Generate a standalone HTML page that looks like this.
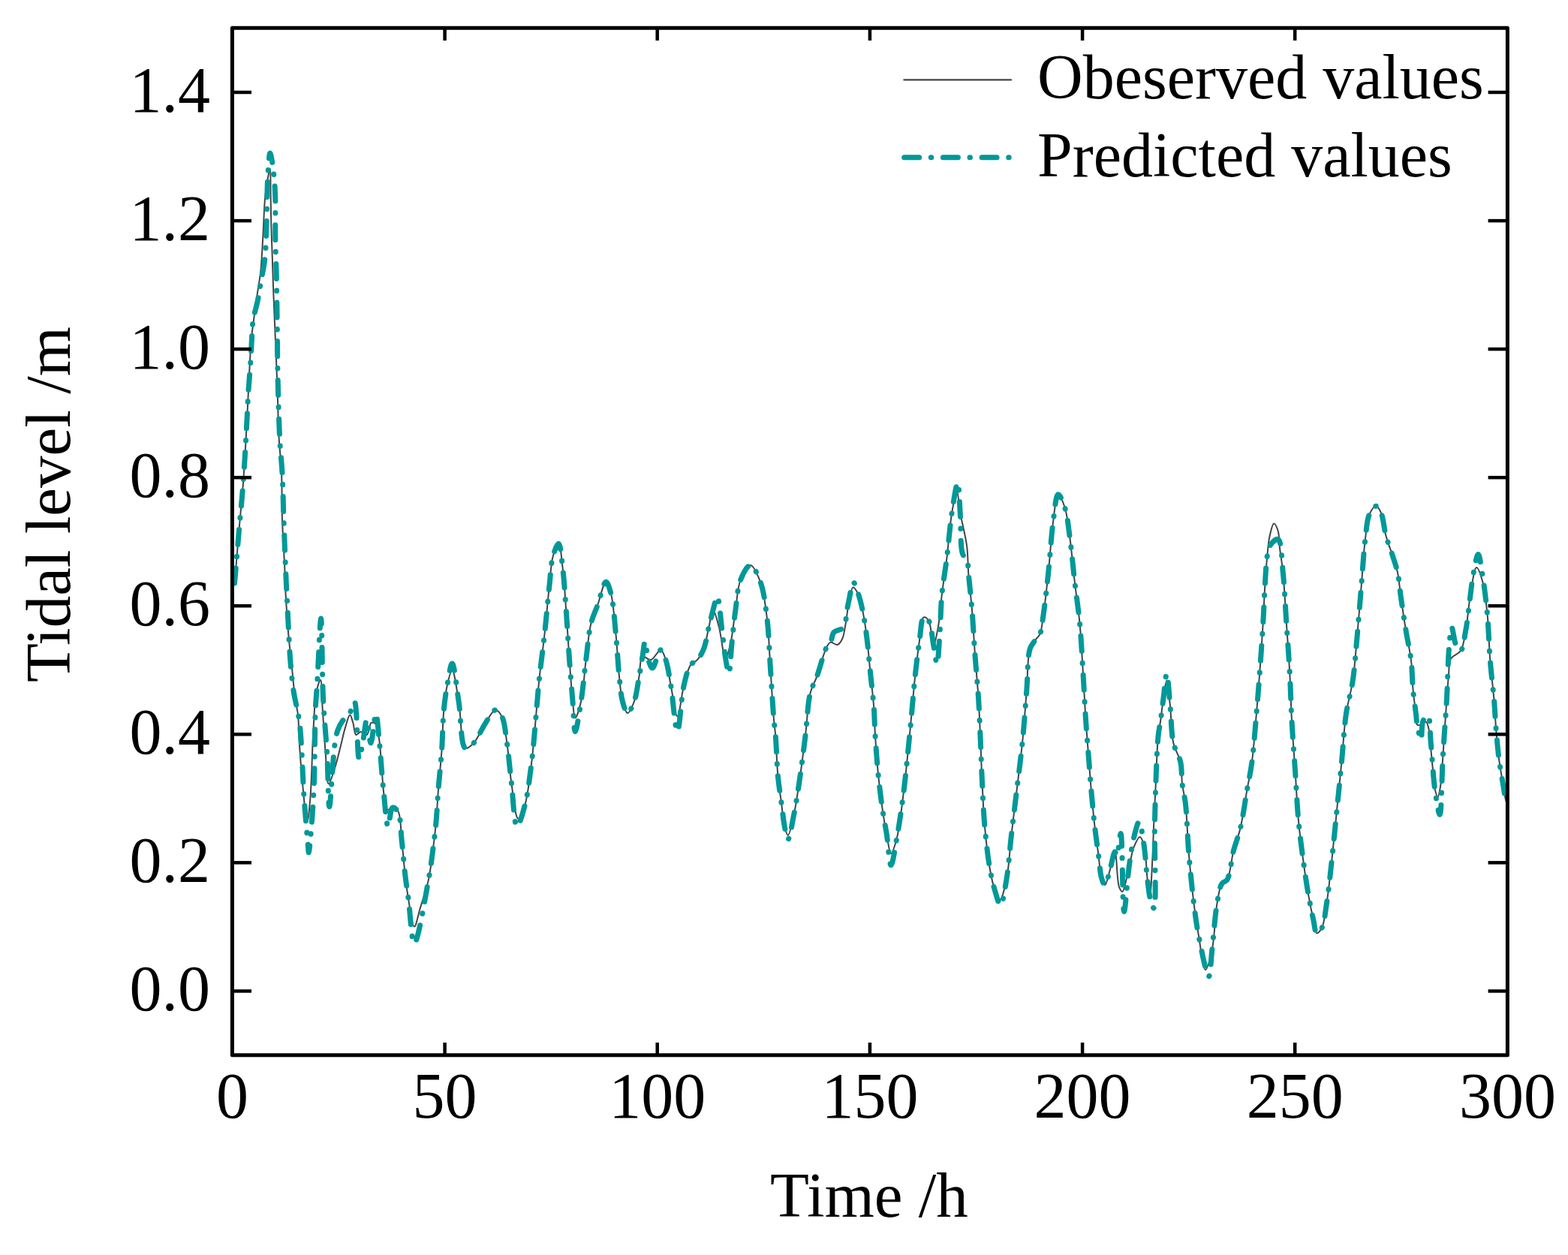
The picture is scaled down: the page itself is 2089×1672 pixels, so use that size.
<!DOCTYPE html>
<html><head><meta charset="utf-8"><title>Tidal level</title>
<style>
html,body{margin:0;padding:0;background:#fff;}
svg{display:block;}
text{font-family:"Liberation Serif","Times New Roman",serif;fill:#000;}
</style></head><body>
<svg width="2089" height="1672" viewBox="0 0 2089 1672">
<rect width="2089" height="1672" fill="#fff"/>
<g fill="none" stroke-linejoin="round">
<path d="M312.5,777.0C312.5,777.0 314.1,758.9 315.0,748.0C316.2,734.0 317.6,716.2 319.0,700.0C320.4,683.5 322.2,666.7 323.5,650.0C324.8,633.3 325.8,616.7 326.8,600.0C327.8,583.3 328.6,566.7 329.5,550.0C330.4,533.3 331.1,516.7 332.0,500.0C332.9,483.3 333.7,463.6 335.0,450.0C335.9,440.7 336.9,435.0 338.0,426.4C339.4,416.1 341.1,403.3 342.7,392.2C344.2,381.6 346.1,372.5 347.3,361.0C348.8,347.0 349.4,330.5 350.4,314.4C351.5,297.0 351.6,276.1 353.5,260.0C355.0,247.0 358.7,224.9 359.8,225.0C360.8,225.1 360.3,241.9 360.5,252.2C360.8,265.7 360.9,283.3 361.3,298.9C361.7,314.4 362.4,330.0 362.9,345.5C363.4,361.1 363.8,375.8 364.4,392.2C365.1,410.4 366.0,429.8 366.8,450.0C367.7,472.2 368.8,497.1 369.6,520.0C370.4,542.0 370.6,565.3 371.7,584.6C372.6,600.4 374.3,611.8 375.0,627.6C375.9,646.9 375.3,670.5 376.0,692.0C376.7,713.6 378.6,740.6 379.3,756.8C379.7,766.5 379.6,771.2 380.0,780.0C380.5,791.8 381.7,809.3 382.5,821.4C383.1,830.8 383.6,837.2 384.4,846.4C385.4,857.9 387.1,871.6 388.5,885.0C390.0,899.5 391.5,918.1 393.2,930.5C394.4,939.2 396.1,944.2 397.0,952.6C398.2,963.4 397.9,976.3 398.8,990.0C399.9,1006.7 401.4,1027.5 403.2,1045.5C404.9,1062.5 407.3,1095.0 409.2,1095.0C410.7,1095.0 412.1,1077.4 413.3,1064.5C415.3,1042.2 415.8,999.1 417.4,973.0C418.6,953.5 419.0,934.1 421.5,922.0C423.0,915.0 425.7,905.8 427.0,906.0C429.0,906.3 428.7,928.7 429.6,942.4C430.8,960.1 432.2,985.2 433.7,1003.5C434.9,1018.5 435.0,1043.8 437.7,1044.2C439.7,1044.5 443.4,1031.4 445.9,1023.8C448.9,1014.7 451.5,1002.9 454.0,993.3C456.2,984.7 457.8,976.2 460.1,968.9C462.0,962.9 464.3,952.6 466.2,952.6C467.7,952.6 469.0,959.0 470.3,962.8C471.8,967.5 472.0,978.1 474.4,979.0C476.0,979.6 478.3,975.1 480.5,975.0C483.0,974.8 486.4,979.9 488.6,979.0C491.6,977.8 491.9,964.2 494.7,962.8C496.4,962.0 499.2,963.1 500.8,964.8C503.5,967.8 503.8,976.2 504.9,983.1C506.3,992.0 506.9,1002.8 507.9,1013.7C509.0,1026.3 509.6,1042.6 511.0,1054.4C512.1,1063.6 511.7,1076.5 515.1,1078.8C517.1,1080.1 520.7,1076.5 523.2,1076.8C525.7,1077.1 528.4,1078.0 530.3,1080.8C534.5,1087.1 533.8,1107.8 535.4,1121.7C537.0,1136.2 538.2,1152.3 539.8,1166.0C541.2,1177.9 542.3,1188.0 544.3,1199.2C546.4,1210.9 549.2,1234.5 552.0,1234.6C554.4,1234.7 556.9,1219.2 559.7,1210.2C563.1,1199.0 567.9,1185.9 570.8,1172.6C574.0,1158.0 575.7,1140.1 577.5,1126.1C579.0,1114.7 580.0,1106.3 581.0,1095.0C582.2,1081.4 582.9,1065.4 584.1,1050.0C585.4,1033.8 587.3,1017.0 588.5,1000.0C589.7,982.4 589.8,961.9 591.3,946.0C592.5,933.3 593.7,921.6 596.0,912.0C597.7,904.6 600.3,892.8 602.4,892.9C605.4,893.1 608.5,919.6 611.2,935.0C614.5,953.6 613.6,993.9 620.0,996.9C622.9,998.3 627.4,993.6 631.0,990.0C636.5,984.4 641.4,971.5 646.6,963.7C651.0,957.1 655.8,946.3 659.9,946.0C663.0,945.8 666.4,950.4 668.7,954.8C672.7,962.3 673.4,977.0 675.4,990.0C677.8,1006.1 678.9,1027.0 681.5,1044.3C683.9,1060.4 686.4,1090.1 690.3,1090.7C692.8,1091.1 696.7,1080.8 699.2,1073.0C703.4,1059.9 705.2,1039.6 708.0,1017.7C712.0,986.1 715.4,932.9 718.8,901.3C721.1,879.5 723.3,865.3 725.4,846.0C727.7,824.9 729.9,798.6 732.0,779.6C733.6,765.3 733.8,752.0 736.5,742.0C738.4,734.8 742.1,724.0 744.2,724.3C746.9,724.6 748.2,745.0 749.7,757.5C751.7,773.6 752.8,793.5 754.2,812.8C755.8,833.9 757.1,858.1 758.6,879.2C760.0,898.5 761.4,920.2 763.0,934.5C764.0,943.5 764.5,956.4 766.3,956.6C768.2,956.8 772.0,943.7 774.1,934.5C777.4,920.4 778.4,897.0 780.7,879.2C782.9,862.4 784.1,843.8 787.4,830.5C789.8,820.8 793.1,814.7 796.2,806.1C799.7,796.4 804.0,775.3 807.3,775.2C809.7,775.1 812.0,783.7 813.9,790.6C817.3,803.2 818.7,827.5 820.6,846.0C822.4,864.4 823.3,885.2 825.0,901.3C826.3,913.8 827.0,925.6 829.4,934.5C831.1,940.8 833.5,949.8 836.0,950.0C838.6,950.2 842.5,940.9 844.9,934.5C848.2,925.7 849.6,911.8 851.5,901.3C853.2,892.0 852.1,876.9 856.0,874.7C858.6,873.3 863.4,879.9 867.0,879.2C871.5,878.3 876.9,865.4 880.3,865.9C883.3,866.4 885.1,873.6 887.0,879.2C889.9,887.6 891.2,900.6 893.6,912.3C896.3,925.5 899.5,954.4 902.4,954.4C905.4,954.4 908.0,924.6 911.3,912.3C914.0,902.4 916.1,891.4 920.1,885.8C922.6,882.3 926.3,882.2 929.0,879.2C932.4,875.4 935.4,869.9 937.8,863.7C940.9,855.8 942.3,843.9 944.5,834.9C946.4,827.0 947.8,812.9 950.0,812.8C952.2,812.7 955.4,826.3 957.8,834.9C961.1,846.6 963.5,876.8 966.6,877.0C968.8,877.1 971.4,865.1 973.3,857.0C976.1,845.2 977.6,827.1 979.9,812.8C982.0,799.2 982.3,783.7 986.5,773.0C989.7,764.8 995.5,752.9 999.8,753.0C1004.3,753.1 1009.5,766.0 1013.0,775.2C1017.8,787.9 1019.7,806.3 1021.9,823.8C1024.4,844.1 1024.9,868.1 1026.4,890.2C1027.9,912.3 1029.4,940.1 1030.8,956.6C1031.6,966.4 1032.4,970.5 1033.2,980.0C1034.4,994.5 1035.0,1019.2 1036.5,1035.3C1037.7,1047.8 1039.4,1057.4 1040.9,1068.5C1042.4,1079.6 1043.3,1093.7 1045.4,1101.7C1046.7,1106.5 1048.2,1112.9 1049.8,1112.8C1052.2,1112.7 1055.3,1096.0 1057.5,1086.2C1060.2,1074.3 1061.9,1061.4 1064.2,1046.4C1067.1,1027.1 1070.4,1001.3 1073.0,980.0C1075.4,960.4 1075.9,937.7 1079.5,923.4C1081.8,914.1 1085.2,909.8 1088.3,901.3C1092.4,890.0 1097.6,868.7 1101.6,861.5C1103.3,858.4 1104.5,856.2 1106.6,855.6C1109.0,855.0 1112.9,859.7 1115.5,859.0C1118.1,858.3 1120.4,854.7 1122.1,851.2C1124.5,846.3 1125.2,838.6 1126.6,831.3C1128.2,822.6 1129.1,811.2 1131.0,802.5C1132.6,795.2 1133.9,783.0 1136.5,782.6C1138.6,782.2 1142.1,788.9 1144.3,793.7C1147.5,800.8 1149.1,812.6 1150.9,822.4C1152.8,832.5 1153.9,842.1 1155.3,853.4C1156.9,866.8 1158.2,882.9 1159.7,897.7C1161.2,912.4 1163.1,927.7 1164.2,941.9C1165.2,955.1 1165.1,966.1 1166.0,980.0C1167.1,996.7 1168.6,1017.9 1170.4,1035.3C1172.0,1050.9 1173.9,1065.9 1175.9,1079.6C1177.6,1091.5 1179.5,1102.6 1181.5,1112.8C1183.2,1121.6 1184.7,1136.9 1187.0,1137.1C1189.1,1137.3 1192.4,1125.8 1194.7,1117.2C1198.5,1102.8 1200.9,1078.7 1203.6,1057.5C1206.7,1033.4 1209.2,1006.2 1211.8,980.0C1214.5,953.0 1217.0,920.9 1219.5,897.7C1221.4,880.6 1223.0,866.8 1225.0,853.4C1226.7,842.1 1227.1,823.9 1230.6,822.4C1232.4,821.7 1235.4,824.1 1237.2,826.9C1241.0,832.6 1241.5,860.0 1243.8,860.0C1245.9,860.0 1248.7,841.7 1250.5,831.3C1252.6,819.2 1253.2,805.4 1254.9,791.5C1256.8,776.1 1259.4,759.9 1261.5,742.8C1263.8,723.9 1265.4,699.3 1268.2,683.0C1270.1,671.6 1273.0,654.2 1274.8,654.3C1276.6,654.4 1277.3,672.4 1279.2,683.0C1281.5,696.2 1286.3,713.1 1288.1,727.3C1289.8,740.3 1289.3,751.9 1290.3,764.9C1291.4,779.1 1293.3,792.9 1294.7,809.2C1296.4,829.1 1297.6,854.4 1299.2,875.5C1300.6,894.8 1302.5,913.0 1303.6,930.9C1304.7,947.8 1305.2,962.4 1306.0,980.0C1306.9,1000.5 1307.6,1025.3 1308.7,1046.4C1309.7,1065.7 1310.3,1083.3 1312.0,1101.7C1313.7,1120.2 1316.0,1141.6 1318.7,1157.0C1320.7,1168.2 1322.5,1178.2 1325.3,1185.8C1327.3,1191.2 1329.8,1199.2 1332.0,1199.0C1335.0,1198.8 1338.4,1183.3 1340.8,1172.5C1344.2,1156.7 1345.2,1132.3 1347.4,1112.8C1349.6,1094.0 1351.7,1077.2 1354.0,1057.5C1356.7,1035.0 1360.2,1008.5 1362.5,985.0C1364.7,962.7 1366.1,940.6 1367.8,919.8C1369.3,900.6 1368.6,875.7 1372.2,864.5C1373.9,859.1 1376.5,856.8 1378.8,853.4C1380.9,850.2 1383.8,848.5 1385.5,844.6C1388.1,838.7 1388.4,830.0 1389.9,820.2C1392.1,805.5 1394.4,784.5 1396.5,764.9C1398.9,742.8 1400.5,713.6 1403.2,694.1C1405.1,680.2 1406.6,659.2 1409.8,658.7C1412.2,658.4 1416.3,669.1 1418.7,676.4C1422.1,686.8 1423.3,701.6 1425.3,716.2C1427.8,734.1 1429.6,756.5 1431.9,776.0C1434.1,794.8 1436.8,812.0 1438.6,831.3C1440.6,852.4 1441.6,875.9 1443.0,897.7C1444.3,918.8 1445.3,941.0 1446.6,960.0C1447.7,976.0 1448.8,988.7 1450.0,1004.3C1451.4,1021.7 1452.8,1042.2 1454.4,1059.6C1455.8,1075.2 1457.2,1090.1 1458.8,1103.8C1460.2,1115.7 1461.7,1125.9 1463.2,1137.0C1464.7,1148.1 1465.4,1162.8 1467.7,1170.2C1468.9,1174.2 1470.6,1179.2 1472.1,1179.1C1474.3,1178.9 1476.6,1166.2 1478.7,1159.2C1481.0,1151.5 1483.5,1134.7 1485.4,1134.8C1487.9,1135.0 1487.8,1173.0 1490.9,1181.3C1492.2,1184.7 1493.8,1188.1 1495.3,1187.9C1498.3,1187.4 1501.5,1165.2 1504.2,1154.7C1506.6,1145.4 1507.9,1135.4 1510.8,1128.2C1513.0,1122.8 1516.3,1114.8 1518.6,1114.9C1520.7,1115.0 1522.6,1120.9 1524.1,1126.0C1526.9,1135.7 1527.1,1157.3 1528.5,1170.2C1529.6,1180.2 1530.8,1196.8 1531.8,1196.8C1533.1,1196.8 1534.3,1164.9 1535.2,1148.1C1536.2,1130.3 1536.6,1110.2 1537.4,1092.8C1538.1,1077.2 1538.8,1064.8 1539.6,1048.5C1540.6,1028.6 1541.3,998.3 1542.9,982.1C1543.8,972.7 1545.1,967.9 1546.2,960.0C1547.5,950.8 1548.5,939.4 1550.0,930.0C1551.3,921.7 1553.0,906.6 1554.4,906.6C1556.0,906.6 1557.5,927.6 1558.9,939.8C1560.6,954.8 1560.2,976.3 1563.3,990.0C1565.6,1000.0 1570.8,1006.4 1572.8,1015.3C1574.8,1024.5 1573.9,1034.7 1575.0,1044.1C1576.1,1053.1 1578.1,1059.7 1579.4,1070.6C1581.4,1087.7 1582.0,1114.9 1583.8,1137.0C1585.7,1159.1 1588.0,1183.5 1590.5,1203.4C1592.5,1219.7 1594.5,1233.0 1597.1,1247.7C1599.7,1262.5 1602.6,1291.8 1606.0,1292.0C1608.7,1292.2 1612.4,1276.3 1614.8,1265.4C1618.3,1249.2 1618.6,1219.7 1621.5,1203.4C1623.4,1192.6 1624.7,1181.8 1628.1,1176.9C1629.9,1174.2 1632.8,1175.2 1634.7,1172.4C1639.1,1166.0 1640.4,1144.7 1643.6,1132.6C1646.4,1122.2 1649.8,1114.9 1652.4,1103.8C1655.9,1089.3 1658.6,1068.6 1661.3,1052.9C1663.7,1039.4 1666.0,1029.6 1667.9,1015.3C1670.4,996.7 1672.1,971.6 1673.9,950.9C1675.6,931.7 1676.9,914.8 1678.3,895.5C1679.9,874.4 1681.6,849.1 1682.8,829.2C1683.8,813.0 1684.1,799.7 1685.0,785.0C1685.9,770.2 1687.0,753.5 1688.3,740.6C1689.3,730.6 1689.8,721.8 1691.6,714.1C1693.0,707.8 1695.1,697.7 1697.2,697.5C1698.9,697.3 1701.4,703.4 1702.7,707.5C1704.5,713.3 1704.0,721.5 1704.9,729.6C1706.1,739.6 1708.0,749.8 1709.3,762.8C1711.1,781.1 1712.3,807.1 1713.8,829.2C1715.3,851.3 1717.0,873.5 1718.2,895.5C1719.4,917.1 1719.8,938.4 1721.0,960.0C1722.2,982.0 1724.0,1004.3 1725.5,1026.4C1727.0,1048.5 1727.9,1071.7 1729.9,1092.8C1731.7,1112.1 1734.1,1130.7 1736.5,1148.1C1738.6,1163.7 1740.8,1178.6 1743.2,1192.3C1745.3,1204.2 1747.7,1216.2 1749.8,1225.5C1751.3,1232.3 1751.8,1242.5 1754.2,1243.2C1755.9,1243.7 1759.0,1240.1 1760.9,1236.6C1764.4,1230.0 1765.5,1215.9 1767.5,1203.4C1770.0,1187.3 1772.0,1167.4 1774.1,1148.1C1776.4,1127.0 1778.6,1103.8 1780.8,1081.7C1783.0,1059.6 1785.3,1037.3 1787.4,1015.3C1789.5,993.7 1790.6,970.3 1793.4,950.9C1795.8,934.7 1800.0,922.2 1802.3,906.6C1804.9,889.2 1806.0,870.6 1807.8,851.3C1809.7,830.2 1811.5,807.0 1813.3,784.9C1815.2,762.8 1816.6,736.8 1818.9,718.5C1820.5,705.5 1820.9,693.1 1824.4,685.3C1826.7,680.3 1830.6,674.3 1833.3,674.3C1835.7,674.3 1838.0,679.0 1839.9,683.1C1843.1,690.1 1843.8,704.2 1846.5,714.1C1849.0,723.4 1852.7,732.1 1855.4,740.6C1857.8,748.3 1860.2,754.6 1862.0,762.8C1864.1,772.7 1864.7,784.2 1866.4,796.0C1868.3,809.7 1870.8,825.9 1873.1,840.2C1875.3,853.8 1878.4,866.7 1880.0,880.0C1881.6,893.2 1881.4,907.0 1882.6,919.5C1883.7,931.0 1885.6,943.9 1886.6,952.4C1887.2,957.8 1886.0,963.7 1888.0,965.5C1889.4,966.8 1892.5,966.1 1894.5,965.5C1896.4,964.9 1898.3,961.2 1899.7,961.6C1901.6,962.1 1902.7,967.7 1903.7,972.1C1905.3,978.8 1905.4,989.6 1906.3,998.4C1907.2,1007.2 1908.0,1015.9 1908.9,1024.7C1909.8,1033.5 1910.0,1044.3 1911.6,1051.0C1912.6,1055.4 1914.3,1061.7 1915.5,1061.6C1917.0,1061.5 1918.5,1051.2 1919.5,1044.5C1920.9,1035.4 1921.3,1023.1 1922.1,1011.6C1923.0,999.0 1923.8,985.3 1924.7,972.1C1925.6,958.9 1926.5,945.2 1927.4,932.6C1928.2,921.1 1929.0,909.5 1930.0,899.7C1930.8,891.6 1929.7,883.4 1932.8,877.8C1935.5,872.8 1942.9,872.0 1946.1,866.8C1950.2,860.3 1950.7,850.6 1952.7,840.2C1955.4,826.0 1956.7,804.4 1959.4,789.3C1961.6,777.0 1964.0,756.4 1967.1,756.1C1969.4,755.9 1972.8,766.4 1974.9,773.8C1978.2,785.1 1979.8,802.0 1981.5,818.0C1983.5,836.9 1983.7,860.2 1985.3,880.0C1986.8,898.3 1989.1,916.3 1990.5,932.6C1991.7,946.7 1992.1,958.9 1993.2,972.1C1994.3,985.3 1995.5,999.1 1997.1,1011.6C1998.6,1023.1 2000.7,1034.6 2002.4,1044.5C2003.8,1052.7 2004.9,1062.8 2006.3,1066.8C2006.9,1068.4 2008.0,1070.0 2008.0,1070.0" stroke="#444" stroke-width="2"/>
<path d="M312.5,777.0C312.5,777.0 314.1,758.9 315.0,748.0C316.2,734.0 317.6,716.2 319.0,700.0C320.4,683.5 322.2,666.7 323.5,650.0C324.8,633.3 325.8,616.7 326.8,600.0C327.8,583.3 328.7,564.6 329.5,550.0C330.1,538.7 330.3,530.7 331.0,520.0C331.8,507.6 333.2,492.7 334.0,480.0C334.7,468.4 335.1,456.3 335.7,446.6C336.2,439.0 336.1,433.5 337.2,426.4C338.5,418.1 341.7,408.6 343.4,400.0C345.0,392.0 345.9,384.9 347.3,376.6C349.0,367.0 351.5,357.0 352.8,345.5C354.4,331.6 354.5,315.6 355.1,298.9C355.8,279.7 355.7,254.1 356.7,236.7C357.5,224.0 358.5,204.1 359.8,204.0C360.6,203.9 361.7,210.7 362.5,215.0C363.6,221.0 364.5,229.0 365.2,236.7C366.0,245.4 366.5,254.0 366.8,264.6C367.2,278.8 366.6,297.4 366.8,314.4C367.0,332.1 367.9,350.9 368.3,368.8C368.7,386.2 368.8,400.3 369.1,420.2C369.5,448.0 369.7,489.7 370.5,520.0C371.1,545.4 371.9,569.9 373.0,590.0C373.8,605.2 375.2,615.2 376.0,630.0C377.0,648.4 377.3,671.1 378.0,692.0C378.8,713.4 379.7,738.8 380.5,756.8C381.0,769.7 381.4,778.4 382.0,790.0C382.6,802.7 383.3,815.9 384.0,830.0C384.8,845.7 385.5,864.3 386.8,880.0C387.9,894.1 389.0,906.5 391.0,920.0C393.0,934.1 396.9,945.4 399.0,962.8C402.3,989.4 403.1,1034.9 405.2,1064.5C406.9,1087.5 409.2,1113.8 410.3,1125.6C410.7,1130.4 410.9,1135.8 411.3,1135.8C412.2,1135.8 414.3,1109.4 415.4,1095.0C416.7,1079.0 417.6,1063.9 418.4,1044.0C419.5,1015.8 419.3,965.9 420.4,942.0C421.0,929.0 421.7,924.6 422.5,912.0C423.9,890.4 426.3,824.0 427.6,824.0C429.1,824.0 429.0,899.7 430.6,932.0C431.9,958.3 434.3,979.7 435.7,1003.5C437.1,1027.2 437.2,1074.7 438.8,1074.7C440.5,1074.7 443.3,1011.0 445.9,993.0C447.2,984.0 447.9,978.7 449.9,973.0C451.5,968.4 453.4,964.8 456.0,961.0C458.7,957.1 463.3,954.2 466.0,950.0C468.8,945.6 470.6,934.7 472.3,935.0C476.1,935.6 475.7,1010.8 478.4,1011.0C480.0,1011.1 482.3,993.7 484.0,985.0C485.7,976.3 487.0,959.0 488.6,959.0C490.3,959.0 492.1,990.0 494.0,990.0C496.1,990.0 498.9,951.0 500.8,951.0C502.5,951.0 503.5,970.2 504.9,983.0C506.9,1002.0 508.7,1032.8 511.0,1054.0C512.9,1071.3 514.7,1100.9 517.1,1101.0C518.9,1101.1 519.7,1077.2 523.0,1076.0C524.9,1075.3 528.1,1077.9 530.0,1081.0C534.1,1087.8 533.8,1107.8 535.4,1121.7C537.1,1136.1 538.2,1152.3 539.8,1166.0C541.2,1177.9 542.6,1186.6 544.3,1199.2C546.5,1215.8 548.3,1256.5 552.0,1256.7C556.5,1256.9 566.4,1196.6 570.8,1172.6C574.1,1154.9 575.7,1140.1 577.5,1126.1C579.0,1114.7 580.0,1106.3 581.0,1095.0C582.2,1081.4 582.9,1065.4 584.1,1050.0C585.4,1033.8 587.3,1017.0 588.5,1000.0C589.7,982.4 589.8,961.9 591.3,946.0C592.5,933.3 594.0,922.7 596.0,912.0C597.8,902.2 600.2,883.9 602.4,884.0C605.3,884.1 608.4,917.2 611.2,935.0C614.3,954.6 613.6,993.9 620.0,996.9C622.9,998.3 627.4,993.6 631.0,990.0C636.5,984.4 641.4,971.5 646.6,963.7C651.0,957.1 655.8,946.3 659.9,946.0C663.0,945.8 666.4,950.4 668.7,954.8C672.7,962.3 673.4,977.0 675.4,990.0C677.8,1006.1 679.3,1026.0 681.5,1044.3C683.7,1063.0 684.9,1100.5 688.7,1100.9C691.5,1101.2 696.3,1084.1 699.2,1073.0C703.2,1057.9 705.2,1039.6 708.0,1017.7C712.0,986.1 715.4,932.9 718.8,901.3C721.1,879.5 723.3,865.3 725.4,846.0C727.7,824.9 729.9,798.6 732.0,779.6C733.6,765.3 733.8,752.0 736.5,742.0C738.4,734.8 742.1,724.0 744.2,724.3C746.9,724.6 748.2,745.0 749.7,757.5C751.7,773.6 752.8,793.5 754.2,812.8C755.8,833.9 757.1,858.1 758.6,879.2C760.0,898.5 761.6,917.5 763.0,934.5C764.2,949.0 764.5,974.6 766.3,974.7C768.2,974.8 771.8,949.0 774.1,934.5C776.7,917.6 778.4,897.0 780.7,879.2C782.9,862.4 784.1,843.8 787.4,830.5C789.8,820.8 793.1,814.7 796.2,806.1C799.7,796.4 804.0,775.3 807.3,775.2C809.7,775.1 812.0,783.7 813.9,790.6C817.3,803.2 818.7,827.5 820.6,846.0C822.4,864.4 823.3,885.2 825.0,901.3C826.3,913.8 827.0,925.6 829.4,934.5C831.1,940.8 833.5,949.8 836.0,950.0C838.6,950.2 842.5,940.9 844.9,934.5C848.2,925.7 849.6,911.8 851.5,901.3C853.2,892.0 854.6,882.9 856.0,874.7C857.2,867.6 858.1,854.8 859.3,854.8C860.7,854.8 861.8,873.6 864.0,880.0C865.5,884.2 867.2,890.0 869.2,890.0C872.3,889.9 877.0,866.0 880.3,865.9C882.8,865.9 885.1,873.6 887.0,879.2C889.9,887.6 891.4,899.5 893.6,912.3C896.6,929.7 899.5,974.3 902.4,974.3C905.4,974.3 907.5,928.5 911.3,912.3C913.9,901.5 916.1,891.4 920.1,885.8C922.6,882.3 926.3,882.2 929.0,879.2C932.4,875.4 935.4,869.9 937.8,863.7C940.9,855.8 942.3,843.9 944.5,834.9C946.4,827.0 948.1,819.7 950.0,812.8C951.8,806.5 953.8,794.9 955.5,795.0C958.1,795.2 960.1,825.7 962.0,840.0C963.7,852.9 964.8,866.6 966.6,877.0C967.9,884.7 969.7,897.0 971.0,896.9C972.8,896.8 973.6,870.6 975.0,857.0C976.5,842.6 977.9,827.1 979.9,812.8C981.8,799.2 982.3,783.7 986.5,773.0C989.7,764.8 995.5,752.9 999.8,753.0C1004.3,753.1 1009.5,766.0 1013.0,775.2C1017.8,787.9 1019.7,806.3 1021.9,823.8C1024.4,844.1 1024.9,868.1 1026.4,890.2C1027.9,912.3 1029.4,940.1 1030.8,956.6C1031.6,966.4 1032.4,970.5 1033.2,980.0C1034.4,994.5 1035.0,1019.2 1036.5,1035.3C1037.7,1047.8 1039.4,1057.4 1040.9,1068.5C1042.4,1079.6 1043.6,1092.6 1045.4,1101.7C1046.7,1108.2 1048.2,1118.3 1049.8,1118.3C1052.1,1118.3 1055.2,1097.5 1057.5,1086.2C1060.1,1073.7 1061.9,1061.4 1064.2,1046.4C1067.1,1027.1 1070.4,1001.3 1073.0,980.0C1075.4,960.4 1075.9,937.7 1079.5,923.4C1081.8,914.1 1085.2,909.8 1088.3,901.3C1092.4,890.0 1097.6,868.7 1101.6,861.5C1103.3,858.4 1105.2,858.1 1106.6,855.6C1108.5,852.2 1108.1,845.7 1111.0,842.4C1114.0,839.0 1121.4,839.6 1124.3,835.7C1127.7,831.1 1126.8,821.3 1128.0,815.0C1129.0,809.6 1129.7,805.6 1131.0,800.0C1132.6,792.9 1134.6,776.2 1137.0,776.0C1139.1,775.8 1142.2,787.0 1144.3,793.7C1147.0,802.0 1149.1,812.6 1150.9,822.4C1152.8,832.5 1153.9,842.1 1155.3,853.4C1156.9,866.8 1158.2,882.9 1159.7,897.7C1161.2,912.4 1163.1,927.7 1164.2,941.9C1165.2,955.1 1165.1,966.1 1166.0,980.0C1167.1,996.7 1168.6,1017.9 1170.4,1035.3C1172.0,1050.9 1173.9,1065.9 1175.9,1079.6C1177.6,1091.5 1179.7,1101.2 1181.5,1112.8C1183.4,1125.5 1184.7,1152.5 1187.0,1152.6C1189.2,1152.7 1192.3,1130.6 1194.7,1117.2C1197.9,1099.9 1200.9,1078.7 1203.6,1057.5C1206.7,1033.4 1209.2,1006.2 1211.8,980.0C1214.5,953.0 1217.0,920.9 1219.5,897.7C1221.4,880.6 1223.0,866.8 1225.0,853.4C1226.7,842.1 1227.1,823.9 1230.6,822.4C1232.4,821.7 1235.4,824.1 1237.2,826.9C1241.0,832.6 1241.8,849.8 1243.8,860.0C1245.5,868.7 1247.0,884.5 1248.3,884.4C1249.9,884.3 1251.0,859.1 1252.0,845.0C1253.2,828.5 1253.3,808.9 1254.9,791.5C1256.5,774.9 1259.4,759.9 1261.5,742.8C1263.8,723.9 1265.5,700.9 1268.2,683.0C1270.4,668.3 1274.1,643.1 1275.9,643.2C1277.7,643.3 1278.2,668.6 1279.2,683.0C1280.4,699.9 1279.0,729.0 1282.6,738.3C1284.0,742.0 1286.8,741.9 1288.1,745.0C1290.1,749.7 1290.3,764.9 1290.3,764.9C1290.3,764.9 1290.3,764.9 1290.3,764.9C1290.3,764.9 1293.3,792.9 1294.7,809.2C1296.4,829.1 1297.6,854.4 1299.2,875.5C1300.6,894.8 1302.5,913.0 1303.6,930.9C1304.7,947.8 1305.2,962.4 1306.0,980.0C1306.9,1000.5 1307.6,1025.3 1308.7,1046.4C1309.7,1065.7 1310.3,1083.3 1312.0,1101.7C1313.7,1120.2 1316.0,1141.6 1318.7,1157.0C1320.7,1168.2 1322.7,1177.2 1325.3,1185.8C1327.5,1193.1 1330.7,1205.9 1333.0,1205.7C1336.0,1205.5 1338.6,1185.3 1340.8,1172.5C1343.7,1155.6 1345.2,1132.3 1347.4,1112.8C1349.6,1094.0 1351.7,1077.2 1354.0,1057.5C1356.7,1035.0 1360.2,1008.5 1362.5,985.0C1364.7,962.7 1366.1,940.6 1367.8,919.8C1369.3,900.6 1368.6,875.7 1372.2,864.5C1373.9,859.1 1376.5,856.8 1378.8,853.4C1380.9,850.2 1383.8,848.5 1385.5,844.6C1388.1,838.7 1388.4,830.0 1389.9,820.2C1392.1,805.5 1394.4,784.5 1396.5,764.9C1398.9,742.8 1400.5,713.6 1403.2,694.1C1405.1,680.2 1406.6,659.2 1409.8,658.7C1412.2,658.4 1416.3,669.1 1418.7,676.4C1422.1,686.8 1423.3,701.6 1425.3,716.2C1427.8,734.1 1429.6,756.5 1431.9,776.0C1434.1,794.8 1436.8,812.0 1438.6,831.3C1440.6,852.4 1441.6,875.9 1443.0,897.7C1444.3,918.8 1445.3,941.0 1446.6,960.0C1447.7,976.0 1448.8,988.7 1450.0,1004.3C1451.4,1021.7 1452.8,1042.2 1454.4,1059.6C1455.8,1075.2 1457.2,1090.1 1458.8,1103.8C1460.2,1115.7 1461.7,1125.9 1463.2,1137.0C1464.7,1148.1 1465.4,1162.8 1467.7,1170.2C1468.9,1174.2 1470.6,1179.2 1472.1,1179.1C1474.3,1178.9 1476.6,1166.2 1478.7,1159.2C1481.0,1151.5 1483.5,1135.0 1485.4,1134.8C1486.3,1134.7 1487.2,1140.1 1488.0,1140.0C1489.9,1139.7 1491.7,1110.4 1493.1,1110.5C1495.7,1110.7 1495.2,1214.4 1497.5,1214.5C1499.3,1214.6 1501.7,1172.6 1504.2,1154.7C1506.2,1140.1 1508.1,1125.9 1510.8,1115.0C1512.8,1107.1 1515.5,1094.9 1517.5,1095.0C1520.0,1095.1 1522.3,1114.7 1524.1,1126.0C1526.2,1139.4 1526.8,1156.9 1528.5,1170.2C1529.9,1181.1 1530.9,1192.8 1533.0,1200.0C1534.3,1204.3 1536.3,1210.2 1537.4,1210.0C1541.2,1209.2 1537.6,1131.3 1538.5,1092.8C1539.4,1055.4 1540.8,1004.9 1542.9,982.1C1543.9,971.9 1545.1,967.9 1546.2,960.0C1547.5,950.8 1548.7,940.2 1550.0,930.0C1551.4,919.5 1553.0,897.8 1554.4,897.8C1556.0,897.8 1557.5,925.2 1558.9,939.8C1560.5,955.8 1560.2,976.3 1563.3,990.0C1565.6,1000.0 1570.8,1006.4 1572.8,1015.3C1574.8,1024.5 1573.9,1034.7 1575.0,1044.1C1576.1,1053.1 1578.1,1059.7 1579.4,1070.6C1581.4,1087.7 1582.0,1114.9 1583.8,1137.0C1585.7,1159.1 1588.0,1183.5 1590.5,1203.4C1592.5,1219.7 1594.0,1232.3 1597.1,1247.7C1600.5,1264.7 1607.4,1301.0 1610.4,1300.8C1612.8,1300.7 1613.2,1278.8 1614.8,1265.4C1616.9,1247.6 1618.6,1219.7 1621.5,1203.4C1623.4,1192.6 1624.7,1181.8 1628.1,1176.9C1629.9,1174.2 1632.8,1175.2 1634.7,1172.4C1639.1,1166.0 1640.4,1144.7 1643.6,1132.6C1646.4,1122.2 1649.8,1114.9 1652.4,1103.8C1655.9,1089.3 1658.6,1068.6 1661.3,1052.9C1663.7,1039.4 1666.0,1029.6 1667.9,1015.3C1670.4,996.7 1672.1,971.6 1673.9,950.9C1675.6,931.7 1676.9,914.8 1678.3,895.5C1679.9,874.4 1681.6,849.1 1682.8,829.2C1683.8,813.0 1684.1,799.7 1685.0,785.0C1685.9,770.2 1686.6,751.0 1688.3,740.6C1689.2,734.9 1689.3,731.1 1691.6,727.4C1694.0,723.7 1699.9,717.4 1702.7,718.5C1707.7,720.5 1707.5,746.5 1709.3,762.8C1711.4,782.7 1712.3,807.1 1713.8,829.2C1715.3,851.3 1717.0,873.5 1718.2,895.5C1719.4,917.1 1719.8,938.4 1721.0,960.0C1722.2,982.0 1724.0,1004.3 1725.5,1026.4C1727.0,1048.5 1727.9,1071.7 1729.9,1092.8C1731.7,1112.1 1734.1,1130.7 1736.5,1148.1C1738.6,1163.7 1740.8,1178.6 1743.2,1192.3C1745.3,1204.2 1747.7,1216.2 1749.8,1225.5C1751.3,1232.3 1751.8,1242.5 1754.2,1243.2C1755.9,1243.7 1759.0,1240.1 1760.9,1236.6C1764.4,1230.0 1765.5,1215.9 1767.5,1203.4C1770.0,1187.3 1772.0,1167.4 1774.1,1148.1C1776.4,1127.0 1778.6,1103.8 1780.8,1081.7C1783.0,1059.6 1785.3,1037.3 1787.4,1015.3C1789.5,993.7 1790.6,970.3 1793.4,950.9C1795.8,934.7 1800.0,922.2 1802.3,906.6C1804.9,889.2 1806.0,870.6 1807.8,851.3C1809.7,830.2 1811.5,807.0 1813.3,784.9C1815.2,762.8 1816.6,736.8 1818.9,718.5C1820.5,705.5 1820.9,693.1 1824.4,685.3C1826.7,680.3 1830.6,674.3 1833.3,674.3C1835.7,674.3 1838.0,679.0 1839.9,683.1C1843.1,690.1 1843.8,704.2 1846.5,714.1C1849.0,723.4 1852.7,732.1 1855.4,740.6C1857.8,748.3 1860.2,754.6 1862.0,762.8C1864.1,772.7 1864.7,784.2 1866.4,796.0C1868.3,809.7 1870.8,825.9 1873.1,840.2C1875.3,853.8 1878.4,866.7 1880.0,880.0C1881.6,893.2 1881.4,907.0 1882.6,919.5C1883.7,931.0 1885.6,943.9 1886.6,952.4C1887.2,957.8 1887.1,960.7 1888.0,965.5C1889.1,971.5 1891.9,985.4 1893.2,985.3C1894.7,985.2 1893.4,965.4 1896.0,960.0C1897.5,956.8 1900.8,953.1 1902.4,953.7C1905.7,954.9 1905.0,976.3 1906.3,990.0C1908.0,1007.7 1909.2,1033.6 1911.6,1051.0C1913.4,1064.1 1916.5,1085.4 1918.2,1085.3C1920.6,1085.1 1920.9,1032.4 1922.1,1011.6C1923.0,996.4 1923.8,985.3 1924.7,972.1C1925.6,958.9 1926.5,947.7 1927.4,932.6C1928.5,912.5 1929.1,880.1 1930.6,862.3C1931.6,851.3 1932.4,835.9 1934.0,835.8C1935.6,835.7 1937.2,854.6 1940.0,860.0C1941.7,863.3 1944.3,867.2 1946.1,866.8C1949.1,866.0 1950.7,850.6 1952.7,840.2C1955.4,826.0 1957.7,802.2 1959.4,789.3C1960.5,781.3 1960.7,777.2 1962.0,770.0C1963.7,760.7 1967.1,738.4 1969.3,738.4C1971.3,738.4 1973.2,754.6 1974.9,765.0C1977.3,779.6 1979.8,799.6 1981.5,818.0C1983.3,837.8 1983.7,860.2 1985.3,880.0C1986.8,898.3 1989.1,916.3 1990.5,932.6C1991.7,946.7 1992.1,958.9 1993.2,972.1C1994.3,985.3 1995.5,999.1 1997.1,1011.6C1998.6,1023.1 2000.7,1034.6 2002.4,1044.5C2003.8,1052.7 2004.9,1062.8 2006.3,1066.8C2006.9,1068.4 2008.0,1070.0 2008.0,1070.0" stroke="#009898" stroke-width="7" stroke-linecap="round" stroke-dasharray="20 15.6 0.5 15.6"/>
</g>
<g stroke="#000" stroke-width="4.5" fill="none">
<line x1="309.4" y1="1320.4" x2="335" y2="1320.4"/><line x1="1982.6" y1="1320.4" x2="2008.4" y2="1320.4"/><line x1="309.4" y1="1149.3" x2="335" y2="1149.3"/><line x1="1982.6" y1="1149.3" x2="2008.4" y2="1149.3"/><line x1="309.4" y1="978.3" x2="335" y2="978.3"/><line x1="1982.6" y1="978.3" x2="2008.4" y2="978.3"/><line x1="309.4" y1="807.2" x2="335" y2="807.2"/><line x1="1982.6" y1="807.2" x2="2008.4" y2="807.2"/><line x1="309.4" y1="636.2" x2="335" y2="636.2"/><line x1="1982.6" y1="636.2" x2="2008.4" y2="636.2"/><line x1="309.4" y1="465.1" x2="335" y2="465.1"/><line x1="1982.6" y1="465.1" x2="2008.4" y2="465.1"/><line x1="309.4" y1="294.1" x2="335" y2="294.1"/><line x1="1982.6" y1="294.1" x2="2008.4" y2="294.1"/><line x1="309.4" y1="123.0" x2="335" y2="123.0"/><line x1="1982.6" y1="123.0" x2="2008.4" y2="123.0"/><line x1="592.6" y1="1405.8" x2="592.6" y2="1389"/><line x1="592.6" y1="37.2" x2="592.6" y2="54"/><line x1="875.7" y1="1405.8" x2="875.7" y2="1389"/><line x1="875.7" y1="37.2" x2="875.7" y2="54"/><line x1="1158.9" y1="1405.8" x2="1158.9" y2="1389"/><line x1="1158.9" y1="37.2" x2="1158.9" y2="54"/><line x1="1442.1" y1="1405.8" x2="1442.1" y2="1389"/><line x1="1442.1" y1="37.2" x2="1442.1" y2="54"/><line x1="1725.2" y1="1405.8" x2="1725.2" y2="1389"/><line x1="1725.2" y1="37.2" x2="1725.2" y2="54"/>
<rect x="309.4" y="37.2" width="1699" height="1368.6" stroke-width="5" stroke-linejoin="round"/>
</g>
<g font-size="86">
<text x="280" y="1346.4" text-anchor="end">0.0</text><text x="280" y="1175.3" text-anchor="end">0.2</text><text x="280" y="1004.3" text-anchor="end">0.4</text><text x="280" y="833.2" text-anchor="end">0.6</text><text x="280" y="662.2" text-anchor="end">0.8</text><text x="280" y="491.1" text-anchor="end">1.0</text><text x="280" y="320.1" text-anchor="end">1.2</text><text x="280" y="149.0" text-anchor="end">1.4</text>
<text x="309.4" y="1489" text-anchor="middle">0</text><text x="592.6" y="1489" text-anchor="middle">50</text><text x="875.7" y="1489" text-anchor="middle">100</text><text x="1158.9" y="1489" text-anchor="middle">150</text><text x="1442.1" y="1489" text-anchor="middle">200</text><text x="1725.2" y="1489" text-anchor="middle">250</text><text x="2008.4" y="1489" text-anchor="middle">300</text>
</g>
<g font-size="84">
<line x1="1203.5" y1="106.3" x2="1347.9" y2="106.3" stroke="#444" stroke-width="2.3"/>
<text x="1382" y="131">Obeserved values</text>
<line x1="1204.7" y1="209.7" x2="1345" y2="209.7" stroke="#009898" stroke-width="7" stroke-linecap="round" stroke-dasharray="20 15.6 0.5 15.6"/>
<text x="1382" y="235">Predicted values</text>
<text x="1158" y="1621" text-anchor="middle" font-size="85">Time /h</text>
<text transform="translate(92.7,672) rotate(-90)" text-anchor="middle" font-size="85">Tidal level /m</text>
</g>
</svg>
</body></html>
